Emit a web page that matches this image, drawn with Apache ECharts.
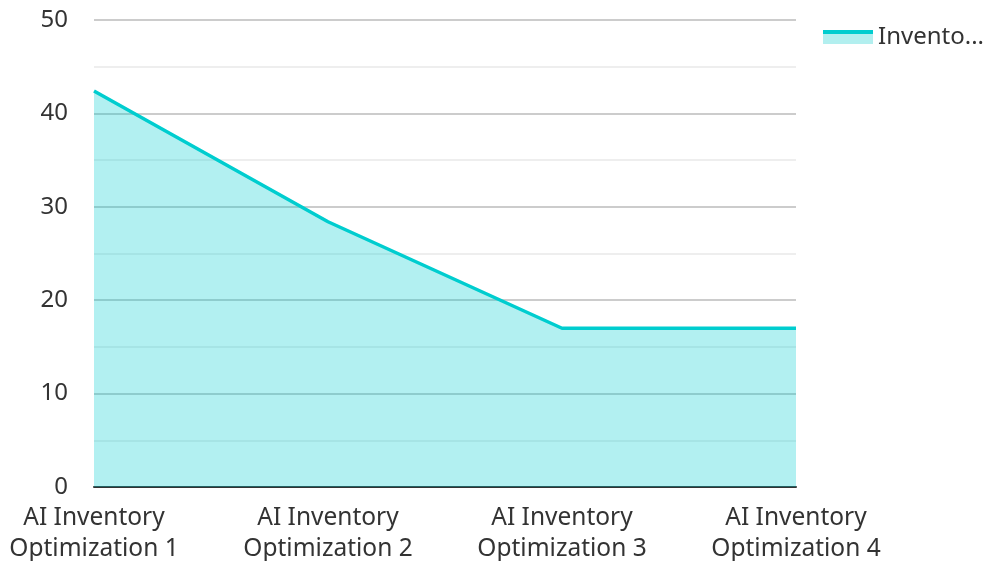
<!DOCTYPE html>
<html>
<head>
<meta charset="utf-8">
<script src="https://cdn.jsdelivr.net/npm/echarts@6/dist/echarts.min.js"></script>
<style>
  html, body { margin: 0; padding: 0; background: #ffffff; }
  #chart { width: 993px; height: 561px; }
</style>
</head>
<body>
<div id="chart"></div>
<script>
const categories = ['AI Inventory Optimization 1', 'AI Inventory Optimization 2', 'AI Inventory Optimization 3', 'AI Inventory Optimization 4'];
const seriesName = 'Inventory';
const values = [42.4, 28.4, 17, 17];

// legend icon: line on top of a light area
const legendIcon = 'image://data:image/svg+xml;utf8,' + encodeURIComponent(
  '<svg xmlns="http://www.w3.org/2000/svg" width="50" height="14">' +
  '<rect x="0" y="0" width="50" height="14" fill="#b2efef"/>' +
  '<rect x="0" y="0" width="50" height="4" fill="#00cdcf"/></svg>');

let chart = echarts.init(document.getElementById('chart'));
let option = {
  textStyle: { fontFamily: 'Noto Sans' },
  legend: {
    data: [{ name: seriesName, icon: legendIcon }],
    right: 4,
    top: 20,
    itemWidth: 50,
    itemHeight: 14,
    itemGap: 8,
    textStyle: {
      fontSize: 24,
      color: '#333',
      width: 108,
      overflow: 'truncate',
      ellipsis: '...'
    }
  },
  grid: {
    left: 94,
    right: 197,
    top: 20,
    bottom: 74,
    containLabel: false,
    outerBoundsMode: 'none'
  },
  xAxis: {
    type: 'category',
    boundaryGap: false,
    data: categories,
    axisLine: { lineStyle: { color: '#333', width: 2 } },
    axisTick: { show: false },
    axisLabel: {
      fontSize: 24.5,
      color: '#333',
      lineHeight: 31,
      margin: 16,
      interval: 0,
      formatter: function (v) {
        return v.replace(' Optimization', '\nOptimization');
      }
    }
  },
  yAxis: {
    type: 'value',
    min: 0,
    max: 50,
    interval: 10,
    axisLine: { show: false },
    axisTick: { show: false },
    axisLabel: { fontSize: 24, color: '#333', margin: 26 },
    splitLine: { lineStyle: { color: '#cccccc', width: 2 } },
    minorTick: { show: false, splitNumber: 2 },
    minorSplitLine: { show: true, lineStyle: { color: '#eeeeee', width: 2 } }
  },
  series: [
    {
      name: seriesName,
      type: 'line',
      data: values,
      symbol: 'none',
      lineStyle: { color: '#00cdcf', width: 3.5 },
      itemStyle: { color: '#00cdcf' },
      areaStyle: { color: '#00cdcf', opacity: 0.3 }
    }
  ]
};
chart.setOption(option);
</script>
</body>
</html>
